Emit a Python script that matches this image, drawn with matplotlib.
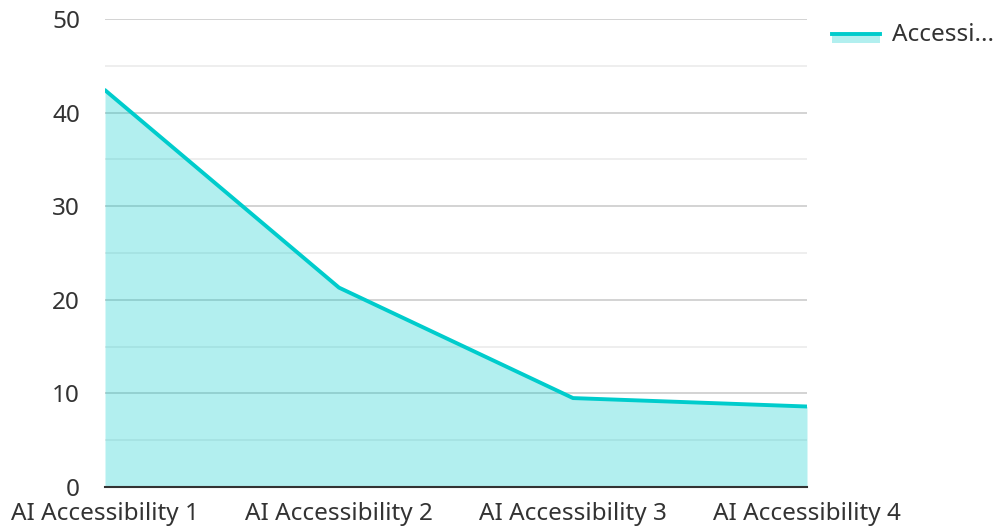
import matplotlib.pyplot as plt
from matplotlib.lines import Line2D
from matplotlib.patches import Rectangle

plt.rcParams['font.family'] = ['Noto Sans', 'DejaVu Sans']

categories = ['AI Accessibility 1', 'AI Accessibility 2', 'AI Accessibility 3', 'AI Accessibility 4']
values = [42.4, 21.3, 9.5, 8.6]
series_name = 'Accessi...'

line_color = '#00cccc'
fill_color = '#00cccc'
fs = 17.5

fig = plt.figure(figsize=(9.97, 5.28), dpi=100)
ax = fig.add_axes([105 / 997, 41 / 528, 702 / 997, 468 / 528])

x = list(range(len(categories)))
ax.fill_between(x, values, 0, color=fill_color, alpha=0.3, linewidth=0, zorder=3)
ax.plot(x, values, color=line_color, linewidth=2.8, zorder=4, solid_capstyle='round')

ax.set_xlim(0, len(categories) - 1)
ax.set_ylim(0, 50)
ax.set_yticks(range(0, 51, 10))
ax.set_yticks(range(5, 50, 10), minor=True)
ax.grid(which='major', axis='y', color='#cccccc', linewidth=1.2, zorder=1)
ax.grid(which='minor', axis='y', color='#ebebeb', linewidth=1.2, zorder=1)
ax.set_xticks(x)
ax.set_xticklabels(categories)
ax.tick_params(axis='both', which='both', length=0, labelsize=fs, colors='#333333')
ax.tick_params(axis='y', pad=18)
ax.tick_params(axis='x', pad=11)
for side in ['top', 'right', 'left']:
    ax.spines[side].set_visible(False)
ax.spines['bottom'].set_color('#333333')
ax.spines['bottom'].set_linewidth(1.5)
ax.spines['bottom'].set_zorder(5)

# legend
W, H = 997, 528
fig.add_artist(Rectangle((832 / W, (H - 43) / H), 48 / W, 10 / H, transform=fig.transFigure,
                         facecolor=fill_color, alpha=0.3, linewidth=0))
fig.add_artist(Line2D([832 / W, 880 / W], [(H - 34) / H, (H - 34) / H], transform=fig.transFigure,
                      color=line_color, linewidth=2.8))
fig.text(892 / W, (H - 35) / H, series_name, fontsize=fs, color='#333333', va='center', ha='left')

fig.savefig('out.png', dpi=100)
